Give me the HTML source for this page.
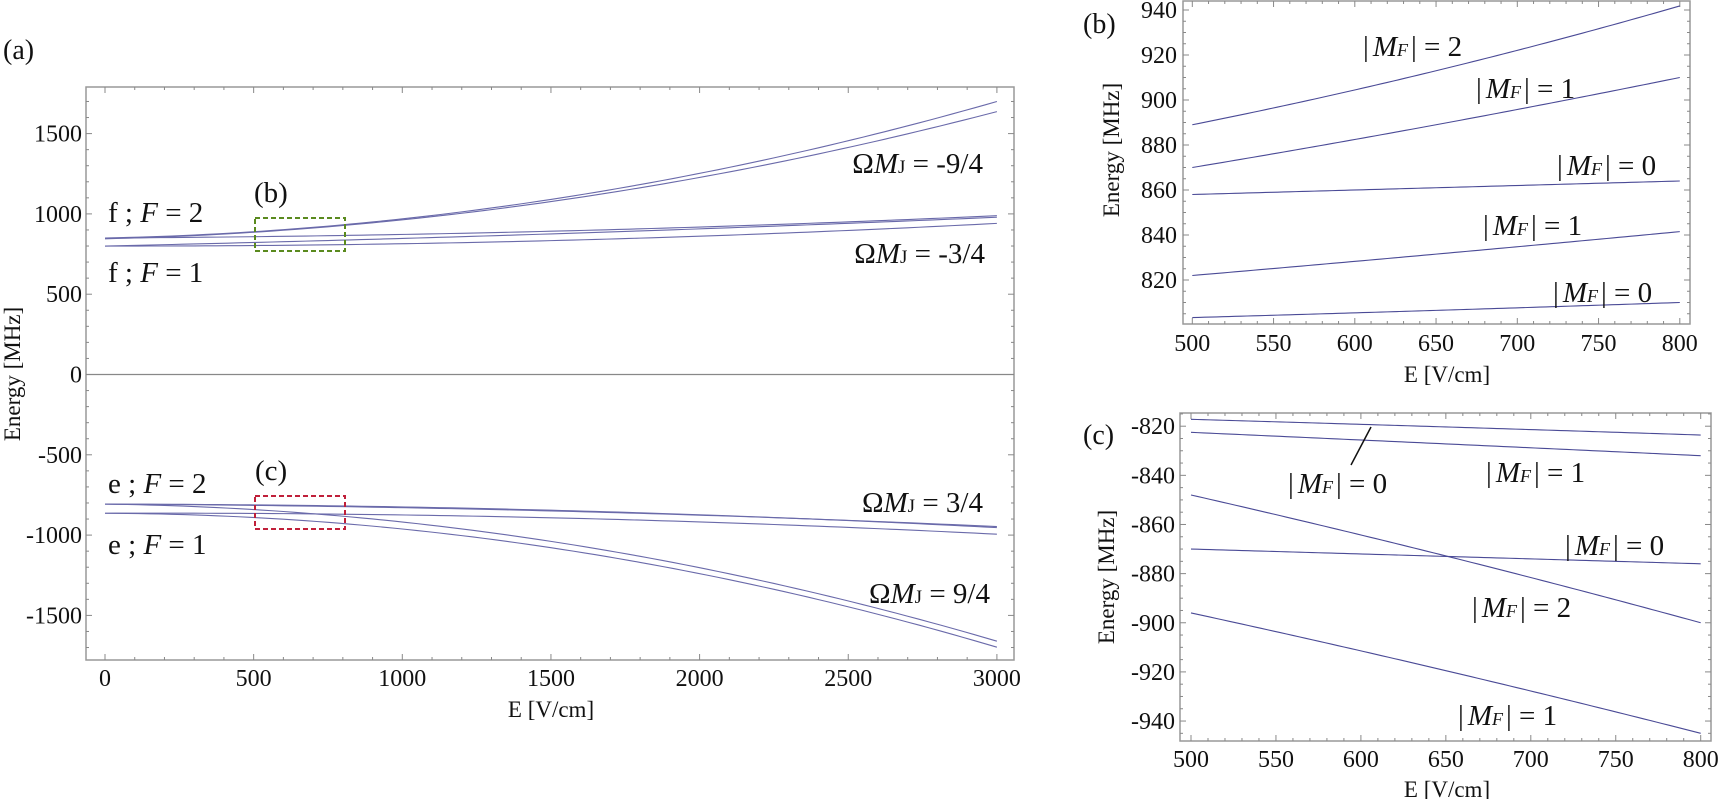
<!DOCTYPE html>
<html><head><meta charset="utf-8"><style>
html,body{margin:0;padding:0;background:#fff;}
svg{display:block;font-family:"Liberation Serif",serif;}
</style></head><body>
<svg id="s" width="1720" height="799" viewBox="0 0 1720 799" xmlns="http://www.w3.org/2000/svg">
<g font-size="28" fill="#111">
<text x="3" y="59">(a)</text>
<text x="1083" y="33">(b)</text>
<text x="1083" y="444">(c)</text>
</g>
<g font-size="23" fill="#111">
<text x="551" y="717" text-anchor="middle">E [V/cm]</text>
<text transform="translate(20,374) rotate(-90)" text-anchor="middle">Energy [MHz]</text>
<text x="1447" y="382" text-anchor="middle">E [V/cm]</text>
<text transform="translate(1119,150) rotate(-90)" text-anchor="middle">Energy [MHz]</text>
<text x="1447" y="797" text-anchor="middle">E [V/cm]</text>
<text transform="translate(1114,577) rotate(-90)" text-anchor="middle">Energy [MHz]</text>
</g>
<g id="plots"></g>
<g font-size="29" fill="#111">
<text x="108" y="222">f ; <tspan font-style="italic">F</tspan> = 2</text>
<text x="108" y="282">f ; <tspan font-style="italic">F</tspan> = 1</text>
<text x="254" y="202">(b)</text>
<text x="108" y="493">e ; <tspan font-style="italic">F</tspan> = 2</text>
<text x="108" y="554">e ; <tspan font-style="italic">F</tspan> = 1</text>
<text x="255" y="480">(c)</text>
<text x="983" y="173" text-anchor="end">Ω<tspan font-style="italic">M</tspan><tspan font-size="19">J</tspan> = -9/4</text>
<text x="985" y="263" text-anchor="end">Ω<tspan font-style="italic">M</tspan><tspan font-size="19">J</tspan> = -3/4</text>
<text x="983" y="512" text-anchor="end">Ω<tspan font-style="italic">M</tspan><tspan font-size="19">J</tspan> = 3/4</text>
<text x="990" y="603" text-anchor="end">Ω<tspan font-style="italic">M</tspan><tspan font-size="19">J</tspan> = 9/4</text>
</g>
<rect x="255" y="218" width="90" height="33" fill="none" stroke="#5a8a1e" stroke-width="2" stroke-dasharray="5,3"/>
<rect x="255" y="496" width="90" height="33" fill="none" stroke="#c0203a" stroke-width="2" stroke-dasharray="5,3"/>
<g font-size="29" fill="#111" id="mf"></g>
<line x1="1351" y1="465" x2="1371" y2="427" stroke="#111" stroke-width="1.5"/>
</svg>
<script>
var NS="http://www.w3.org/2000/svg";
var P=document.getElementById('plots');
function el(t,a,par){var e=document.createElementNS(NS,t);for(var k in a)e.setAttribute(k,a[k]);(par||P).appendChild(e);return e;}
function txt(x,y,s,anchor,size){var t=el('text',{x:x,y:y,'text-anchor':anchor||'middle','font-size':size||24,fill:'#111'});t.textContent=s;return t;}
function frame(x0,y0,x1,y1){el('rect',{x:x0,y:y0,width:x1-x0,height:y1-y0,fill:'none',stroke:'#999','stroke-width':1.5});}
function curve(f,X,Y,a,b,col){var d='';for(var i=0;i<=80;i++){var e=a+(b-a)*i/80;d+=(i?'L':'M')+X(e).toFixed(2)+','+Y(f(e)).toFixed(2);}el('path',{d:d,fill:'none',stroke:col||'#5a5aa0','stroke-width':1.1});}
function q(v0,a,b){return function(e){return v0+a*e+b*e*e;};}
function q3(e0,v0,e1,v1,e2,v2){return function(e){return v0*(e-e1)*(e-e2)/((e0-e1)*(e0-e2))+v1*(e-e0)*(e-e2)/((e1-e0)*(e1-e2))+v2*(e-e0)*(e-e1)/((e2-e0)*(e2-e1));};}

(function(){
var X=function(e){return 105+e*0.2973;},Y=function(v){return 374.5-v*0.1606;};
var x0=86,x1=1014,y0=87,y1=660;
frame(x0,y0,x1,y1);
el('line',{x1:x0,y1:Y(0),x2:x1,y2:Y(0),stroke:'#888','stroke-width':1.2});
for(var e=0;e<=3000;e+=100){var M=e%500==0,L=M?6:3,x=X(e);
 el('line',{x1:x,y1:y1,x2:x,y2:y1-L,stroke:'#888'});el('line',{x1:x,y1:y0,x2:x,y2:y0+L,stroke:'#888'});
 if(M)txt(x,686,''+e,'middle',24);}
for(var v=-1700;v<=1700;v+=100){var M=v%500==0,L=M?6:3,y=Y(v);
 el('line',{x1:x0,y1:y,x2:x0+L,y2:y,stroke:'#888'});el('line',{x1:x1,y1:y,x2:x1-L,y2:y,stroke:'#888'});
 if(M)txt(82,y+8,''+v,'end',24);}
var c='#6a6aaa';
curve(q(850,0.037,8.21e-5),X,Y,0,3000,c);
curve(q(845,0.045,7.3e-5),X,Y,0,3000,c);
curve(q(850,0.00993,1.21e-5),X,Y,0,3000,c);
curve(q(800,0.0409,6.27e-6),X,Y,0,3000,c);
curve(q(800,-0.0022,1.64e-5),X,Y,0,3000,c);
curve(q(-807,-0.002,-1.56e-5),X,Y,0,3000,c);
curve(q(-807,-0.01,-1.22e-5),X,Y,0,3000,c);
curve(q(-807,-0.025,-8.65e-5),X,Y,0,3000,c);
curve(q(-864,0.006,-1.65e-5),X,Y,0,3000,c);
curve(q(-864,-0.008,-9.0e-5),X,Y,0,3000,c);
})();

(function(){
var X=function(e){return 1192.3+(e-500)*1.625;},Y=function(v){return 10+(940-v)*2.25;};
var x0=1183,x1=1690,y0=1,y1=324;
frame(x0,y0,x1,y1);
for(var e=500;e<=800;e+=10){var M=e%50==0,L=M?6:3,x=X(e);
 el('line',{x1:x,y1:y1,x2:x,y2:y1-L,stroke:'#888'});el('line',{x1:x,y1:y0,x2:x,y2:y0+L,stroke:'#888'});
 if(M)txt(x,351,''+e,'middle',24);}
for(var v=805;v<=940;v+=5){var M=v%20==0,L=M?6:3,y=Y(v);
 el('line',{x1:x0,y1:y,x2:x0+L,y2:y,stroke:'#888'});el('line',{x1:x1,y1:y,x2:x1-L,y2:y,stroke:'#888'});
 if(M)txt(1177,y+8,''+v,'end',24);}
var c='#4a4a96';
curve(q3(500,889,650,913,800,941.8),X,Y,500,800,c);
curve(q3(500,870,650,889,800,910),X,Y,500,800,c);
curve(q3(500,858,650,861,800,864),X,Y,500,800,c);
curve(q3(500,822,650,831.5,800,841.5),X,Y,500,800,c);
curve(q3(500,803.3,650,806.5,800,810),X,Y,500,800,c);
})();

(function(){
var X=function(e){return 1191+(e-500)*1.699;},Y=function(v){return 426.2+(-820-v)*2.457;};
var x0=1180,x1=1711,y0=413,y1=741;
frame(x0,y0,x1,y1);
for(var e=500;e<=800;e+=10){var M=e%50==0,L=M?6:3,x=X(e);
 el('line',{x1:x,y1:y1,x2:x,y2:y1-L,stroke:'#888'});el('line',{x1:x,y1:y0,x2:x,y2:y0+L,stroke:'#888'});
 if(M)txt(x,767,''+e,'middle',24);}
for(var v=-945;v<=-815;v+=5){var M=v%20==0,L=M?6:3,y=Y(v);
 el('line',{x1:x0,y1:y,x2:x0+L,y2:y,stroke:'#888'});el('line',{x1:x1,y1:y,x2:x1-L,y2:y,stroke:'#888'});
 if(M)txt(1175,y+8,''+v,'end',24);}
var c='#4a4a96';
curve(q3(500,-817.2,650,-820.3,800,-823.6),X,Y,500,800,c);
curve(q3(500,-822.5,650,-827.2,800,-832),X,Y,500,800,c);
curve(q3(500,-848,650,-872.8,800,-900),X,Y,500,800,c);
curve(q3(500,-870,650,-873,800,-876),X,Y,500,800,c);
curve(q3(500,-896,650,-919.5,800,-945),X,Y,500,800,c);
})();

(function(){
var G=document.getElementById('mf');
var L=[[1363,56,2],[1476,98,1],[1557,175,0],[1483,235,1],[1553,302,0],
       [1486,482,1],[1288,493,0],[1565,555,0],[1472,617,2],[1458,725,1]];
L.forEach(function(a){
 var t=document.createElementNS(NS,'text');t.setAttribute('x',a[0]);t.setAttribute('y',a[1]);
 t.innerHTML='|<tspan font-style="italic" dx="4">M</tspan><tspan font-style="italic" font-size="18">F</tspan><tspan dx="3">|</tspan> = '+a[2];
 G.appendChild(t);});
})();
</script>
</body></html>
